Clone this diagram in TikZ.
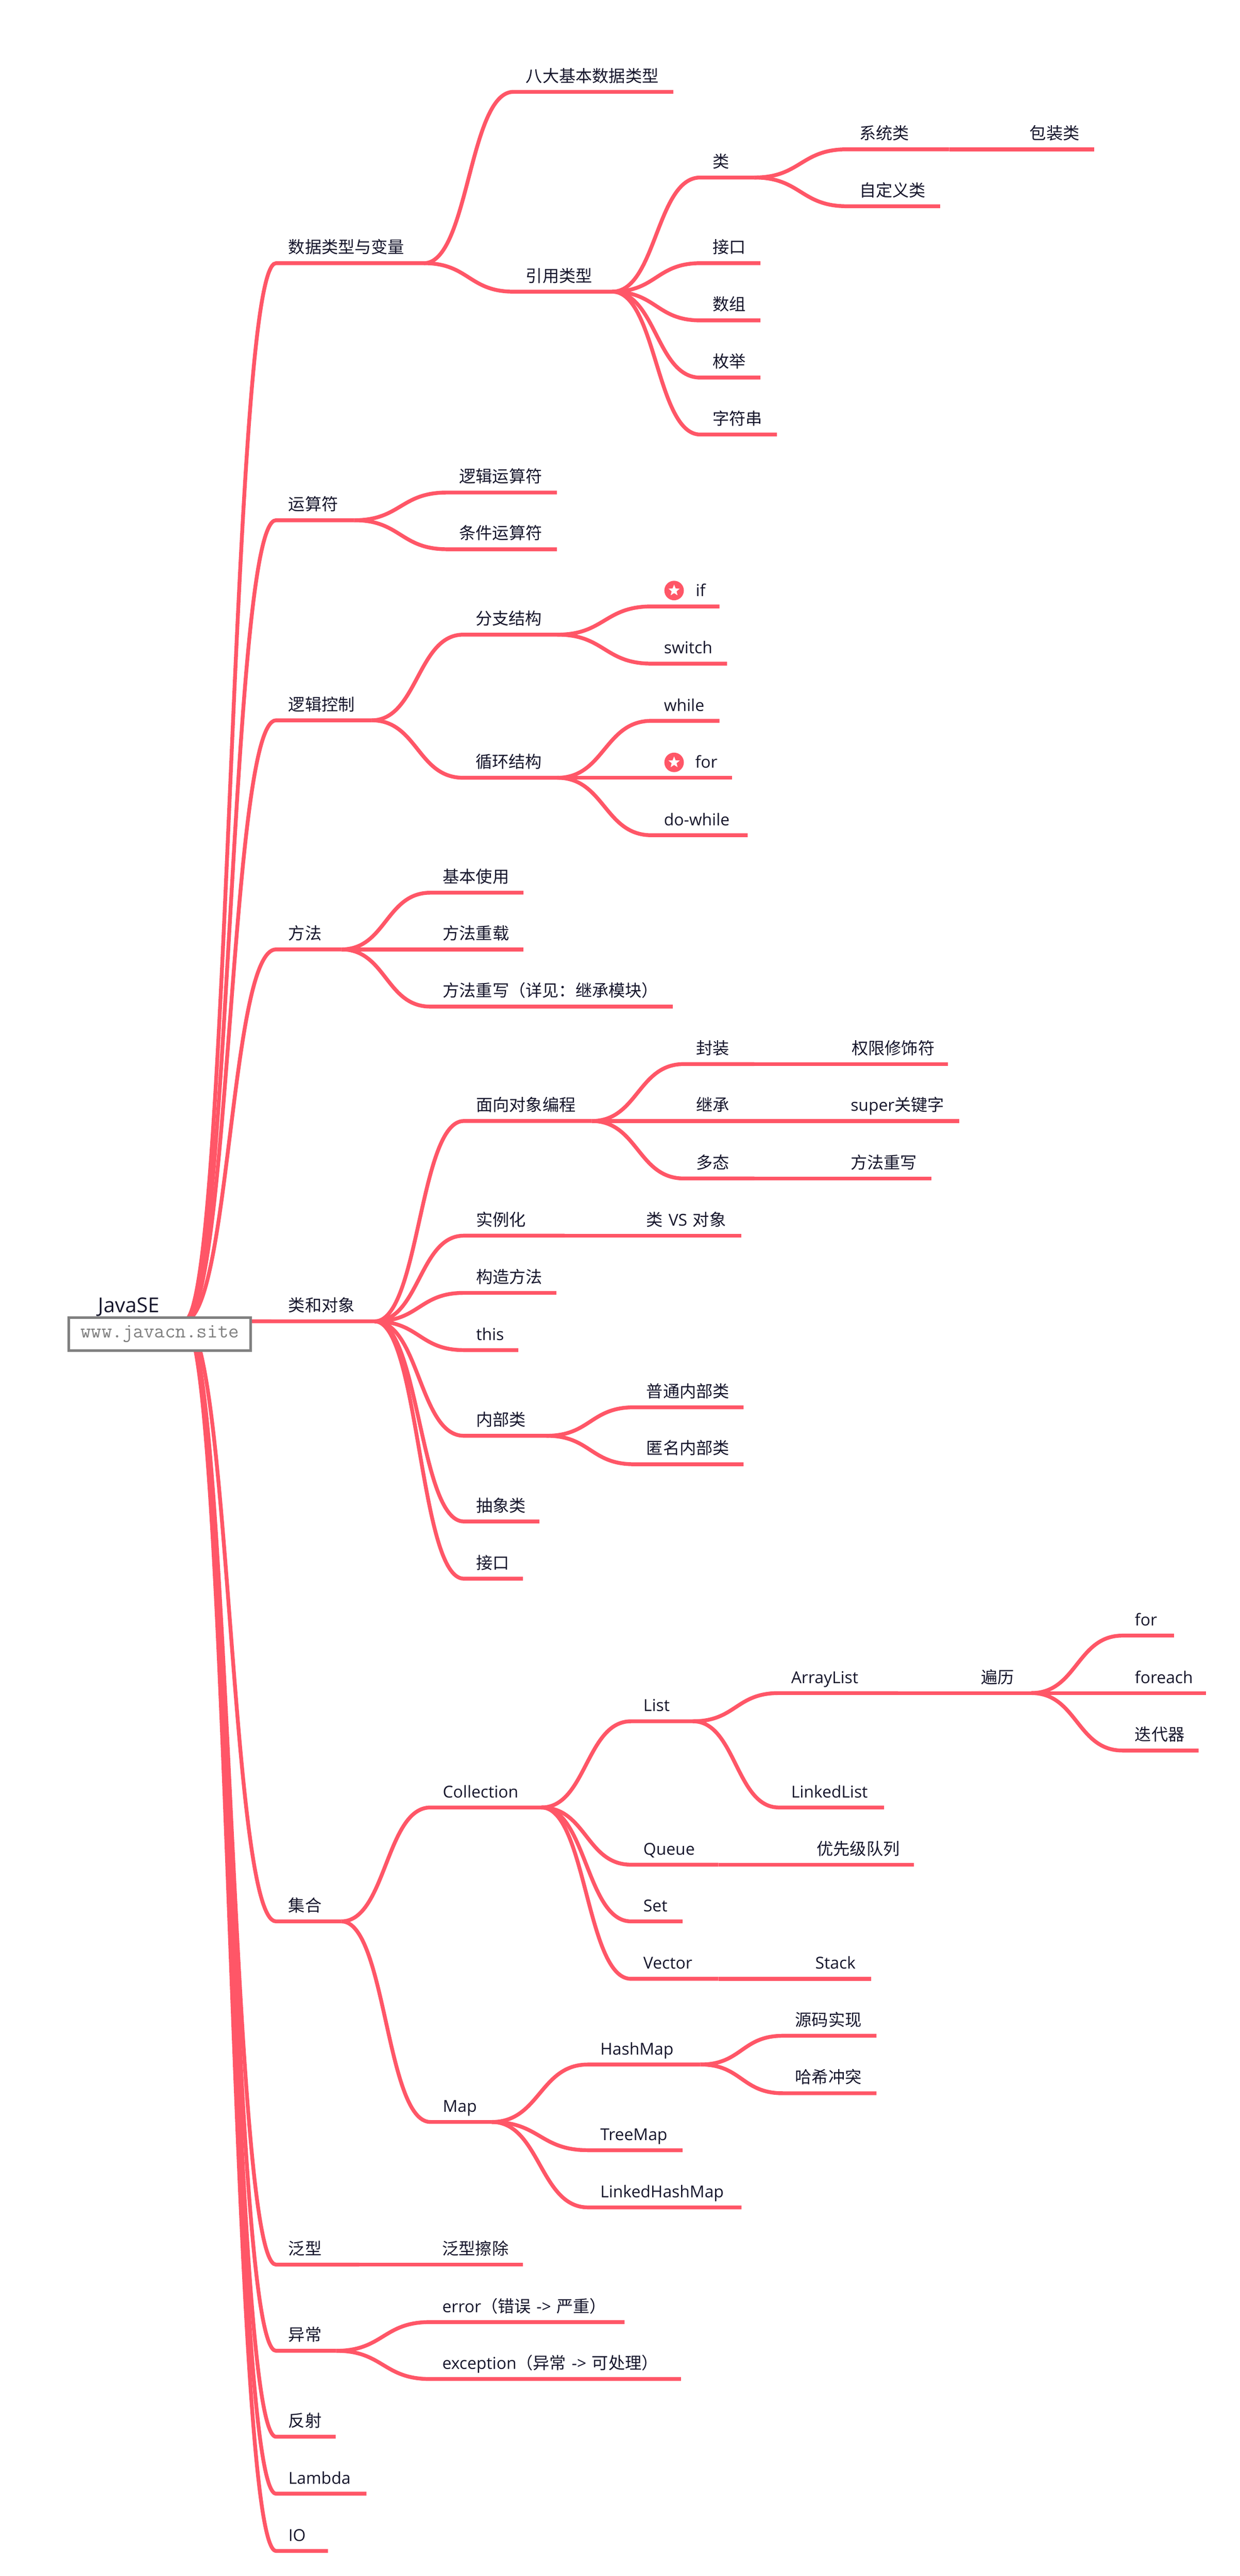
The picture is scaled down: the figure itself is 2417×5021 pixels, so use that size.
\documentclass[tikz,border=0pt]{standalone}
\usepackage{fontspec}
\setmainfont{Open Sans}
\newfontfamily\cjk[Scale=1.01]{Noto Sans CJK SC}
\usetikzlibrary{
    calc,
    shapes.geometric
}
\definecolor{branchred}{HTML}{FF5667}
\definecolor{labelink}{HTML}{15152B}
\tikzset{
    topic/.style = {
      anchor=south west,
      inner sep=0pt,
      text width=#1pt,
      align=left,
      text height=26pt,
      text depth=19pt,
      text=labelink,
      font=\fontsize{32}{38}\selectfont,
      execute at begin node={\hspace*{24pt}}
    }
  }
\tikzset{
    root_topic/.style = {
      topic=#1,
      text depth=17pt,
      font=\fontsize{40}{46}\selectfont
    }
  }
\tikzset{
    branch/.style = {
      draw=branchred,
      line width=7.5pt
    }
  }
\tikzset{
    fork/.style = {
      to path={
        let \p1=(\tikztostart), \p2=(\tikztotarget) in
        .. controls (\x1/2+\x2/2,\y1) and (\x1/2+\x2/2,\y2) .. (\tikztotarget)
      }
    }
  }
\tikzset{
    star_mark/.style = {
      circle,
      fill=branchred,
      inner sep=0pt,
      minimum size=38pt,
      path picture={
        \node[star, star points=5, star point ratio=2.3, fill=white,
              inner sep=0pt, minimum size=23pt]
          at (path picture bounding box.center) {};
      }
    }
  }
\tikzset{
    site_box/.style = {
      draw=gray,
      line width=5pt,
      fill=white,
      text=gray,
      inner sep=0pt,
      minimum width=354pt,
      minimum height=64pt,
      text height=26pt,
      text depth=12pt,
      font=\ttfamily\fontsize{40}{46}\selectfont
    }
  }

\begin{document}
\begin{tikzpicture}[x=1pt,y=-1pt]

\useasboundingbox (0,0) rectangle (2417,5021);

\node[root_topic=191] at (167,2575) (java_se) {JavaSE};

\node[topic=288] at (538,513) (data_types) {\cjk 数据类型与变量};
\node[topic=152] at (538,1014) (operators) {\cjk 运算符};
\node[topic=186] at (538,1404) (flow_ctrl) {\cjk 逻辑控制};
\node[topic=127] at (538,1850.5) (methods) {\cjk 方法};
\node[topic=192] at (538,2575.5) (classes) {\cjk 类和对象};
\node[topic=127] at (538,3745) (collections) {\cjk 集合};
\node[topic=162] at (538,4414) (generics) {\cjk 泛型};
\node[topic=117] at (538,4582) (exceptions) {\cjk 异常};
\node[topic=116] at (538,4749.5) (reflection) {\cjk 反射};
\node[topic=176] at (538,4860.5) (lambda) {Lambda};
\node[topic=101] at (538,4972) (io) {IO};

\node[topic=311] at (1001,179) (eight_types) {\cjk 八大基本数据类型};
\node[topic=192] at (1001,568.5) (ref_types) {\cjk 引用类型};
\node[topic=105] at (1365,346) (cls) {\cjk 类};
\node[topic=199] at (1651,291) (sys_cls) {\cjk 系统类};
\node[topic=149] at (1983,291) (wrapper) {\cjk 包装类};
\node[topic=181] at (1651,402) (custom_cls) {\cjk 自定义类};
\node[topic=117] at (1365,513) (iface) {\cjk 接口};
\node[topic=117] at (1365,624.5) (array) {\cjk 数组};
\node[topic=117] at (1365,736) (enums) {\cjk 枚举};
\node[topic=149] at (1365,847) (strings) {\cjk 字符串};

\node[topic=214] at (871,960) (logic_ops) {\cjk 逻辑运算符};
\node[topic=214] at (871,1070.5) (cond_ops) {\cjk 条件运算符};

\node[topic=183] at (903,1237) (branch_st) {\cjk 分支结构};
\node[topic=183] at (903,1516) (loop_st) {\cjk 循环结构};
\node[topic=132] at (1270,1182) (if_st) {\hspace*{62pt}if};
\node[star_mark] at (1314,1151) (if_mark) {};
\node[topic=147] at (1270,1293.5) (switch_st) {switch};
\node[topic=132] at (1270,1405) (while_st) {while};
\node[topic=157] at (1270,1516) (for_st) {\hspace*{61pt}for};
\node[star_mark] at (1314,1486) (for_mark) {};
\node[topic=187] at (1270,1628) (dowhile_st) {do-while};

\node[topic=181] at (839,1740) (m_basic) {\cjk 基本使用};
\node[topic=181] at (839,1850.5) (m_overload) {\cjk 方法重载};
\node[topic=472] at (839,1962) (m_override) {\cjk 方法重写（详见：继承模块）};

\node[topic=249] at (904,2185) (oop) {\cjk 面向对象编程};
\node[topic=137] at (1333,2074) (encaps) {\cjk 封装};
\node[topic=137] at (1333,2185) (inherit) {\cjk 继承};
\node[topic=137] at (1333,2297) (poly) {\cjk 多态};
\node[topic=211] at (1636,2074) (access) {\cjk 权限修饰符};
\node[topic=235] at (1634,2185) (super_kw) {super{\cjk 关键字}};
\node[topic=181] at (1634,2297) (m_rewrite) {\cjk 方法重写};
\node[topic=196] at (904,2408.5) (instantiate) {\cjk 实例化};
\node[topic=209] at (1236,2408.5) (cls_vs_obj) {{\cjk 类} VS {\cjk 对象}};
\node[topic=180] at (904,2520) (ctor) {\cjk 构造方法};
\node[topic=106] at (904,2631.5) (this_kw) {this};
\node[topic=161] at (904,2798.5) (inner) {\cjk 内部类};
\node[topic=213] at (1236,2743) (inner_plain) {\cjk 普通内部类};
\node[topic=213] at (1236,2854) (inner_anon) {\cjk 匿名内部类};
\node[topic=147] at (904,2965.5) (abstract) {\cjk 抽象类};
\node[topic=115] at (904,3077) (iface_two) {\cjk 接口};

\node[topic=216] at (839,3523) (coll) {Collection};
\node[topic=120] at (1230,3355) (list) {List};
\node[topic=232] at (1518,3300) (array_list) {ArrayList};
\node[topic=122] at (1888,3300) (traverse) {\cjk 遍历};
\node[topic=100] at (2188,3188) (t_for) {for};
\node[topic=162] at (2188,3300) (t_foreach) {foreach};
\node[topic=148] at (2188,3412) (t_iter) {\cjk 迭代器};
\node[topic=205] at (1518,3523) (linked_list) {LinkedList};
\node[topic=170] at (1230,3634.5) (queue) {Queue};
\node[topic=213] at (1568,3634.5) (priority) {\cjk 优先级队列};
\node[topic=100] at (1230,3745) (set_node) {Set};
\node[topic=170] at (1230,3857) (vector) {Vector};
\node[topic=133] at (1565,3857) (stack) {Stack};

\node[topic=119] at (839,4136) (map_node) {Map};
\node[topic=219] at (1146,4024) (hash_map) {HashMap};
\node[topic=182] at (1526,3968) (src_impl) {\cjk 源码实现};
\node[topic=182] at (1526,4080) (hash_coll) {\cjk 哈希冲突};
\node[topic=184] at (1146,4191) (tree_map) {TreeMap};
\node[topic=299] at (1146,4302.5) (linked_map) {LinkedHashMap};

\node[topic=181] at (838,4414) (erasure) {\cjk 泛型擦除};
\node[topic=379] at (838,4526) (err) {error{\cjk （错误} -> {\cjk 严重）}};
\node[topic=489] at (838,4637) (exc) {exception{\cjk （异常} -> {\cjk 可处理）}};


\draw[branch] (java_se.south east) to[fork] (data_types.south west) -- (data_types.south east);
\draw[branch] (java_se.south east) to[fork] (operators.south west) -- (operators.south east);
\draw[branch] (java_se.south east) to[fork] (flow_ctrl.south west) -- (flow_ctrl.south east);
\draw[branch] (java_se.south east) to[fork] (methods.south west) -- (methods.south east);
\draw[branch] (java_se.south east) to[fork] (classes.south west) -- (classes.south east);
\draw[branch] (java_se.south east) to[fork] (collections.south west) -- (collections.south east);
\draw[branch] (java_se.south east) to[fork] (generics.south west) -- (generics.south east);
\draw[branch] (java_se.south east) to[fork] (exceptions.south west) -- (exceptions.south east);
\draw[branch] (java_se.south east) to[fork] (reflection.south west) -- (reflection.south east);
\draw[branch] (java_se.south east) to[fork] (lambda.south west) -- (lambda.south east);
\draw[branch] (java_se.south east) to[fork] (io.south west) -- (io.south east);

\draw[branch] (data_types.south east) to[fork] (eight_types.south west) -- (eight_types.south east);
\draw[branch] (data_types.south east) to[fork] (ref_types.south west) -- (ref_types.south east);
\draw[branch] (ref_types.south east) to[fork] (cls.south west) -- (cls.south east);
\draw[branch] (cls.south east) to[fork] (sys_cls.south west) -- (sys_cls.south east);
\draw[branch] (sys_cls.south east) to[fork] (wrapper.south west) -- (wrapper.south east);
\draw[branch] (cls.south east) to[fork] (custom_cls.south west) -- (custom_cls.south east);
\draw[branch] (ref_types.south east) to[fork] (iface.south west) -- (iface.south east);
\draw[branch] (ref_types.south east) to[fork] (array.south west) -- (array.south east);
\draw[branch] (ref_types.south east) to[fork] (enums.south west) -- (enums.south east);
\draw[branch] (ref_types.south east) to[fork] (strings.south west) -- (strings.south east);

\draw[branch] (operators.south east) to[fork] (logic_ops.south west) -- (logic_ops.south east);
\draw[branch] (operators.south east) to[fork] (cond_ops.south west) -- (cond_ops.south east);

\draw[branch] (flow_ctrl.south east) to[fork] (branch_st.south west) -- (branch_st.south east);
\draw[branch] (flow_ctrl.south east) to[fork] (loop_st.south west) -- (loop_st.south east);
\draw[branch] (branch_st.south east) to[fork] (if_st.south west) -- (if_st.south east);
\draw[branch] (branch_st.south east) to[fork] (switch_st.south west) -- (switch_st.south east);
\draw[branch] (loop_st.south east) to[fork] (while_st.south west) -- (while_st.south east);
\draw[branch] (loop_st.south east) to[fork] (for_st.south west) -- (for_st.south east);
\draw[branch] (loop_st.south east) to[fork] (dowhile_st.south west) -- (dowhile_st.south east);

\draw[branch] (methods.south east) to[fork] (m_basic.south west) -- (m_basic.south east);
\draw[branch] (methods.south east) to[fork] (m_overload.south west) -- (m_overload.south east);
\draw[branch] (methods.south east) to[fork] (m_override.south west) -- (m_override.south east);

\draw[branch] (classes.south east) to[fork] (oop.south west) -- (oop.south east);
\draw[branch] (oop.south east) to[fork] (encaps.south west) -- (encaps.south east);
\draw[branch] (oop.south east) to[fork] (inherit.south west) -- (inherit.south east);
\draw[branch] (oop.south east) to[fork] (poly.south west) -- (poly.south east);
\draw[branch] (encaps.south east) to[fork] (access.south west) -- (access.south east);
\draw[branch] (inherit.south east) to[fork] (super_kw.south west) -- (super_kw.south east);
\draw[branch] (poly.south east) to[fork] (m_rewrite.south west) -- (m_rewrite.south east);
\draw[branch] (classes.south east) to[fork] (instantiate.south west) -- (instantiate.south east);
\draw[branch] (instantiate.south east) to[fork] (cls_vs_obj.south west) -- (cls_vs_obj.south east);
\draw[branch] (classes.south east) to[fork] (ctor.south west) -- (ctor.south east);
\draw[branch] (classes.south east) to[fork] (this_kw.south west) -- (this_kw.south east);
\draw[branch] (classes.south east) to[fork] (inner.south west) -- (inner.south east);
\draw[branch] (inner.south east) to[fork] (inner_plain.south west) -- (inner_plain.south east);
\draw[branch] (inner.south east) to[fork] (inner_anon.south west) -- (inner_anon.south east);
\draw[branch] (classes.south east) to[fork] (abstract.south west) -- (abstract.south east);
\draw[branch] (classes.south east) to[fork] (iface_two.south west) -- (iface_two.south east);

\draw[branch] (collections.south east) to[fork] (coll.south west) -- (coll.south east);
\draw[branch] (collections.south east) to[fork] (map_node.south west) -- (map_node.south east);
\draw[branch] (coll.south east) to[fork] (list.south west) -- (list.south east);
\draw[branch] (list.south east) to[fork] (array_list.south west) -- (array_list.south east);
\draw[branch] (array_list.south east) to[fork] (traverse.south west) -- (traverse.south east);
\draw[branch] (traverse.south east) to[fork] (t_for.south west) -- (t_for.south east);
\draw[branch] (traverse.south east) to[fork] (t_foreach.south west) -- (t_foreach.south east);
\draw[branch] (traverse.south east) to[fork] (t_iter.south west) -- (t_iter.south east);
\draw[branch] (list.south east) to[fork] (linked_list.south west) -- (linked_list.south east);
\draw[branch] (coll.south east) to[fork] (queue.south west) -- (queue.south east);
\draw[branch] (queue.south east) to[fork] (priority.south west) -- (priority.south east);
\draw[branch] (coll.south east) to[fork] (set_node.south west) -- (set_node.south east);
\draw[branch] (coll.south east) to[fork] (vector.south west) -- (vector.south east);
\draw[branch] (vector.south east) to[fork] (stack.south west) -- (stack.south east);

\draw[branch] (map_node.south east) to[fork] (hash_map.south west) -- (hash_map.south east);
\draw[branch] (hash_map.south east) to[fork] (src_impl.south west) -- (src_impl.south east);
\draw[branch] (hash_map.south east) to[fork] (hash_coll.south west) -- (hash_coll.south east);
\draw[branch] (map_node.south east) to[fork] (tree_map.south west) -- (tree_map.south east);
\draw[branch] (map_node.south east) to[fork] (linked_map.south west) -- (linked_map.south east);

\draw[branch] (generics.south east) to[fork] (erasure.south west) -- (erasure.south east);
\draw[branch] (exceptions.south east) to[fork] (err.south west) -- (err.south east);
\draw[branch] (exceptions.south east) to[fork] (exc.south west) -- (exc.south east);


\node[site_box] at (311.5,2600.5) (site_label) {www.javacn.site};

\end{tikzpicture}
\end{document}
